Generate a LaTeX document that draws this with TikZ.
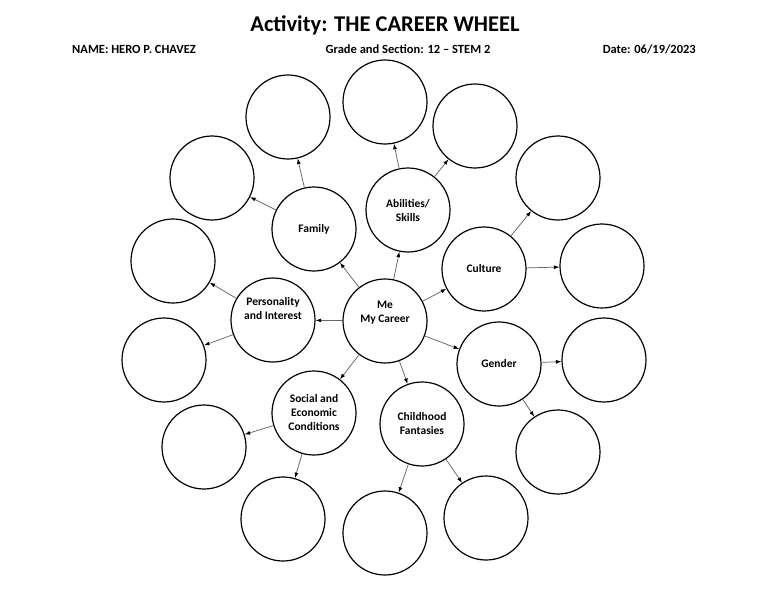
\documentclass[tikz,border=0pt]{standalone}
\usepackage{fontspec}
\setmainfont{Carlito}
\usetikzlibrary{arrows.meta}

\begin{document}
\begin{tikzpicture}[x=1pt,y=-1pt,
  bub/.style={draw,circle,line width=1.2pt,minimum size=84pt,inner sep=0pt,
    align=center,font=\fontsize{11.5}{14}\selectfont\bfseries},
  txt/.style={align=center,inner sep=0pt,font=\fontsize{11.5}{14}\selectfont\bfseries},
  con/.style={draw=black!60,line width=0.75pt,-{Latex[length=5.5pt,width=4pt,color=black]}},
  head/.style={inner sep=0pt,font=\fontsize{12.5}{15}\selectfont\bfseries}]
\useasboundingbox (0,0) rectangle (768,594);

% header
\node[inner sep=0pt,anchor=base,font=\fontsize{22.5}{27}\selectfont\bfseries] (title) at (385,32) {Activity: THE CAREER WHEEL};
\node[head,anchor=base west] (name) at (72,53) {NAME: HERO P. CHAVEZ};
\node[head,anchor=base] (grade) at (408,53) {Grade and Section: 12 -- STEM 2};
\node[head,anchor=base east] (date) at (696,53) {Date: 06/19/2023};

% inner ring
\node[bub,label={[txt,yshift=8pt]center:Me\\My Career}] (me) at (385,321) {};
\node[bub] (fam) at (314,229) {Family};
\node[bub] (abi) at (408,210) {Abilities/\\Skills};
\node[bub] (cul) at (484,269) {Culture};
\node[bub] (gen) at (499,364) {Gender};
\node[bub] (chi) at (422,424) {Childhood\\Fantasies};
\node[bub] (soc) at (314,413) {Social and\\Economic\\Conditions};
\node[bub,label={[txt,yshift=11pt]center:Personality\\and Interest}] (per) at (273,320) {};

% outer ring
\node[bub] (f1) at (288,117) {};
\node[bub] (f2) at (212,178) {};
\node[bub] (a1) at (385,102) {};
\node[bub] (a2) at (475,126) {};
\node[bub] (c1) at (558,178) {};
\node[bub] (c2) at (602,266) {};
\node[bub] (g1) at (604,360) {};
\node[bub] (g2) at (558,452) {};
\node[bub] (h1) at (385,533) {};
\node[bub] (h2) at (486,518) {};
\node[bub] (s1) at (204,447) {};
\node[bub] (s2) at (283,519) {};
\node[bub] (p1) at (173,261) {};
\node[bub] (p2) at (164,360) {};

\path[con] (me) -- (fam);
\path[con] (me) -- (abi);
\path[con] (me) -- (cul);
\path[con] (me) -- (gen);
\path[con] (me) -- (chi);
\path[con] (me) -- (soc);
\path[con] (me) -- (per);

\path[con] (fam) -- (f1);
\path[con] (fam) -- (f2);
\path[con] (abi) -- (a1);
\path[con] (abi) -- (a2);
\path[con] (cul) -- (c1);
\path[con] (cul) -- (c2);
\path[con] (gen) -- (g1);
\path[con] (gen) -- (g2);
\path[con] (chi) -- (h1);
\path[con] (chi) -- (h2);
\path[con] (soc) -- (s1);
\path[con] (soc) -- (s2);
\path[con] (per) -- (p1);
\path[con] (per) -- (p2);
\end{tikzpicture}
\end{document}
